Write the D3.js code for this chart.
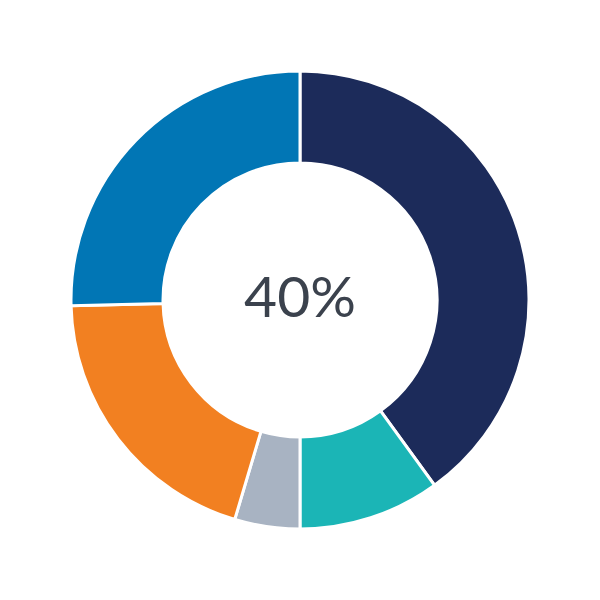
<!DOCTYPE html>
<html>
<head>
<meta charset="utf-8">
<script src="https://cdn.jsdelivr.net/npm/d3@7"></script>
<style>
  body { margin: 0; background: #fff; }
</style>
</head>
<body>
<svg id="chart" width="600" height="600"></svg>
<script>
// slices, clockwise from 12 o'clock
var categories = ["A", "B", "C", "D", "E"]
var values = [40, 10, 4.6, 20.0, 25.4]
var colors = ["#1c2b5a", "#1bb5b6", "#a8b3c2", "#f28021", "#0176b5"]
var centerLabel = "40%"

var svg = d3.select("#chart")
var g = svg.append("g").attr("transform", "translate(300,300)")

var pie = d3.pie().sort(null).value(function(d){ return d })
var arc = d3.arc().innerRadius(137).outerRadius(229)

g.selectAll("path")
  .data(pie(values))
  .enter()
  .append("path")
  .attr("d", arc)
  .attr("fill", function(d,i){ return colors[i] })
  .attr("stroke", "#fff")
  .attr("stroke-width", 3)

g.append("text")
  .text(centerLabel)
  .attr("x", 0)
  .attr("y", 17)
  .attr("text-anchor", "middle")
  .attr("fill", "#3b424d")
  .style("font-family", "Lato, sans-serif")
  .style("font-weight", 400)
  .style("font-size", "57px")
</script>
</body>
</html>
